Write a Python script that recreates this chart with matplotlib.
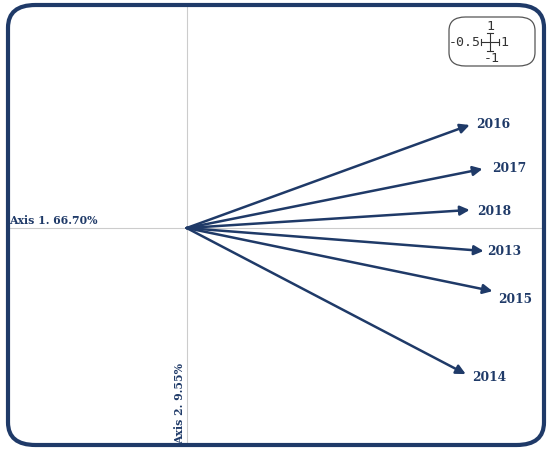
import matplotlib.pyplot as plt
from matplotlib.patches import FancyBboxPatch

# data: arrow end points (axis 1, axis 2)
years = ['2016', '2017', '2018', '2013', '2015', '2014']
axis1 = [0.792, 0.828, 0.792, 0.831, 0.856, 0.781]
axis2 = [0.462, 0.265, 0.081, -0.103, -0.283, -0.655]
axis_labels = ['Axis 1. 66.70%', 'Axis 2. 9.55%']

navy = '#1f3a68'
serif = ['DejaVu Serif']

fig = plt.figure(figsize=(5.5, 4.52), dpi=100)
ax = fig.add_axes([8 / 550, 6 / 452, 536 / 550, 440 / 452])
ax.set_xlim(-0.5, 1.0)
ax.set_ylim(-0.973, 1.0)
ax.axis('off')

# reference lines
ax.axhline(0, color='#cccccc', lw=0.8, zorder=1)
ax.axvline(0, color='#cccccc', lw=0.8, zorder=1)

# arrows and labels (label offsets in points)
offsets = {'2016': (6, 1), '2017': (10, 1), '2018': (7, -1),
           '2013': (4, 0), '2015': (6, -7), '2014': (6, -2)}
for name, x, y in zip(years, axis1, axis2):
    ax.annotate('', xy=(x, y), xytext=(0, 0),
                arrowprops=dict(arrowstyle='-|>', color=navy, lw=1.8,
                                mutation_scale=14, shrinkA=0, shrinkB=0),
                zorder=3)
    ax.annotate(name, xy=(x, y), xytext=offsets[name], textcoords='offset pixels',
                color=navy, fontsize=8.8, fontweight='bold', family=serif,
                ha='left', va='center')

# axis names
ax.text(-0.497, 0.012, axis_labels[0], color=navy, fontsize=7.8,
        fontweight='bold', family=serif, ha='left', va='bottom')
ax.annotate(axis_labels[1], xy=(0, -0.965), xytext=(-2, 0), textcoords='offset pixels',
            color=navy, fontsize=7.8, fontweight='bold', family=serif,
            ha='right', va='bottom', rotation=90)

# scale box (top right)
box = FancyBboxPatch((449 / 550, 1 - 67 / 452), 86 / 550, 49 / 452,
                     boxstyle='round,pad=0,rounding_size=0.03',
                     transform=fig.transFigure, fc='white', ec='#555555', lw=0.9)
fig.patches.append(box)
cx, cy = 490 / 550, 1 - 43 / 452
mono = ['DejaVu Sans Mono']
grey = '#333333'
fig.text(cx, 1 - 27 / 452, '1', fontsize=9.5, family=mono, ha='center', va='center', color=grey)
fig.text(cx - 9 / 550, cy, '-0.5', fontsize=9.5, family=mono, ha='right', va='center', color=grey)
fig.text(cx + 10 / 550, cy, '1', fontsize=9.5, family=mono, ha='left', va='center', color=grey)
fig.text(cx + 2 / 550, 1 - 59 / 452, '-1', fontsize=9.5, family=mono, ha='center', va='center', color=grey)
# little cross
lc = dict(color=grey, lw=0.8, transform=fig.transFigure)
fig.add_artist(plt.Line2D([cx - 9 / 550, cx + 9 / 550], [cy, cy], **lc))
fig.add_artist(plt.Line2D([cx, cx], [cy - 9 / 452, cy + 9 / 452], **lc))
for dx in (-9, 9):
    fig.add_artist(plt.Line2D([cx + dx / 550] * 2, [cy - 3 / 452, cy + 3 / 452], **lc))
for dy in (-9, 9):
    fig.add_artist(plt.Line2D([cx - 3 / 550, cx + 3 / 550], [cy + dy / 452] * 2, **lc))

# outer rounded frame
frame = FancyBboxPatch((8 / 550, 6 / 452), 536 / 550, 440 / 452,
                       boxstyle='round,pad=0,rounding_size=0.05',
                       transform=fig.transFigure, fc='none', ec=navy, lw=3)
fig.patches.append(frame)

fig.savefig('out.png', dpi=100)
